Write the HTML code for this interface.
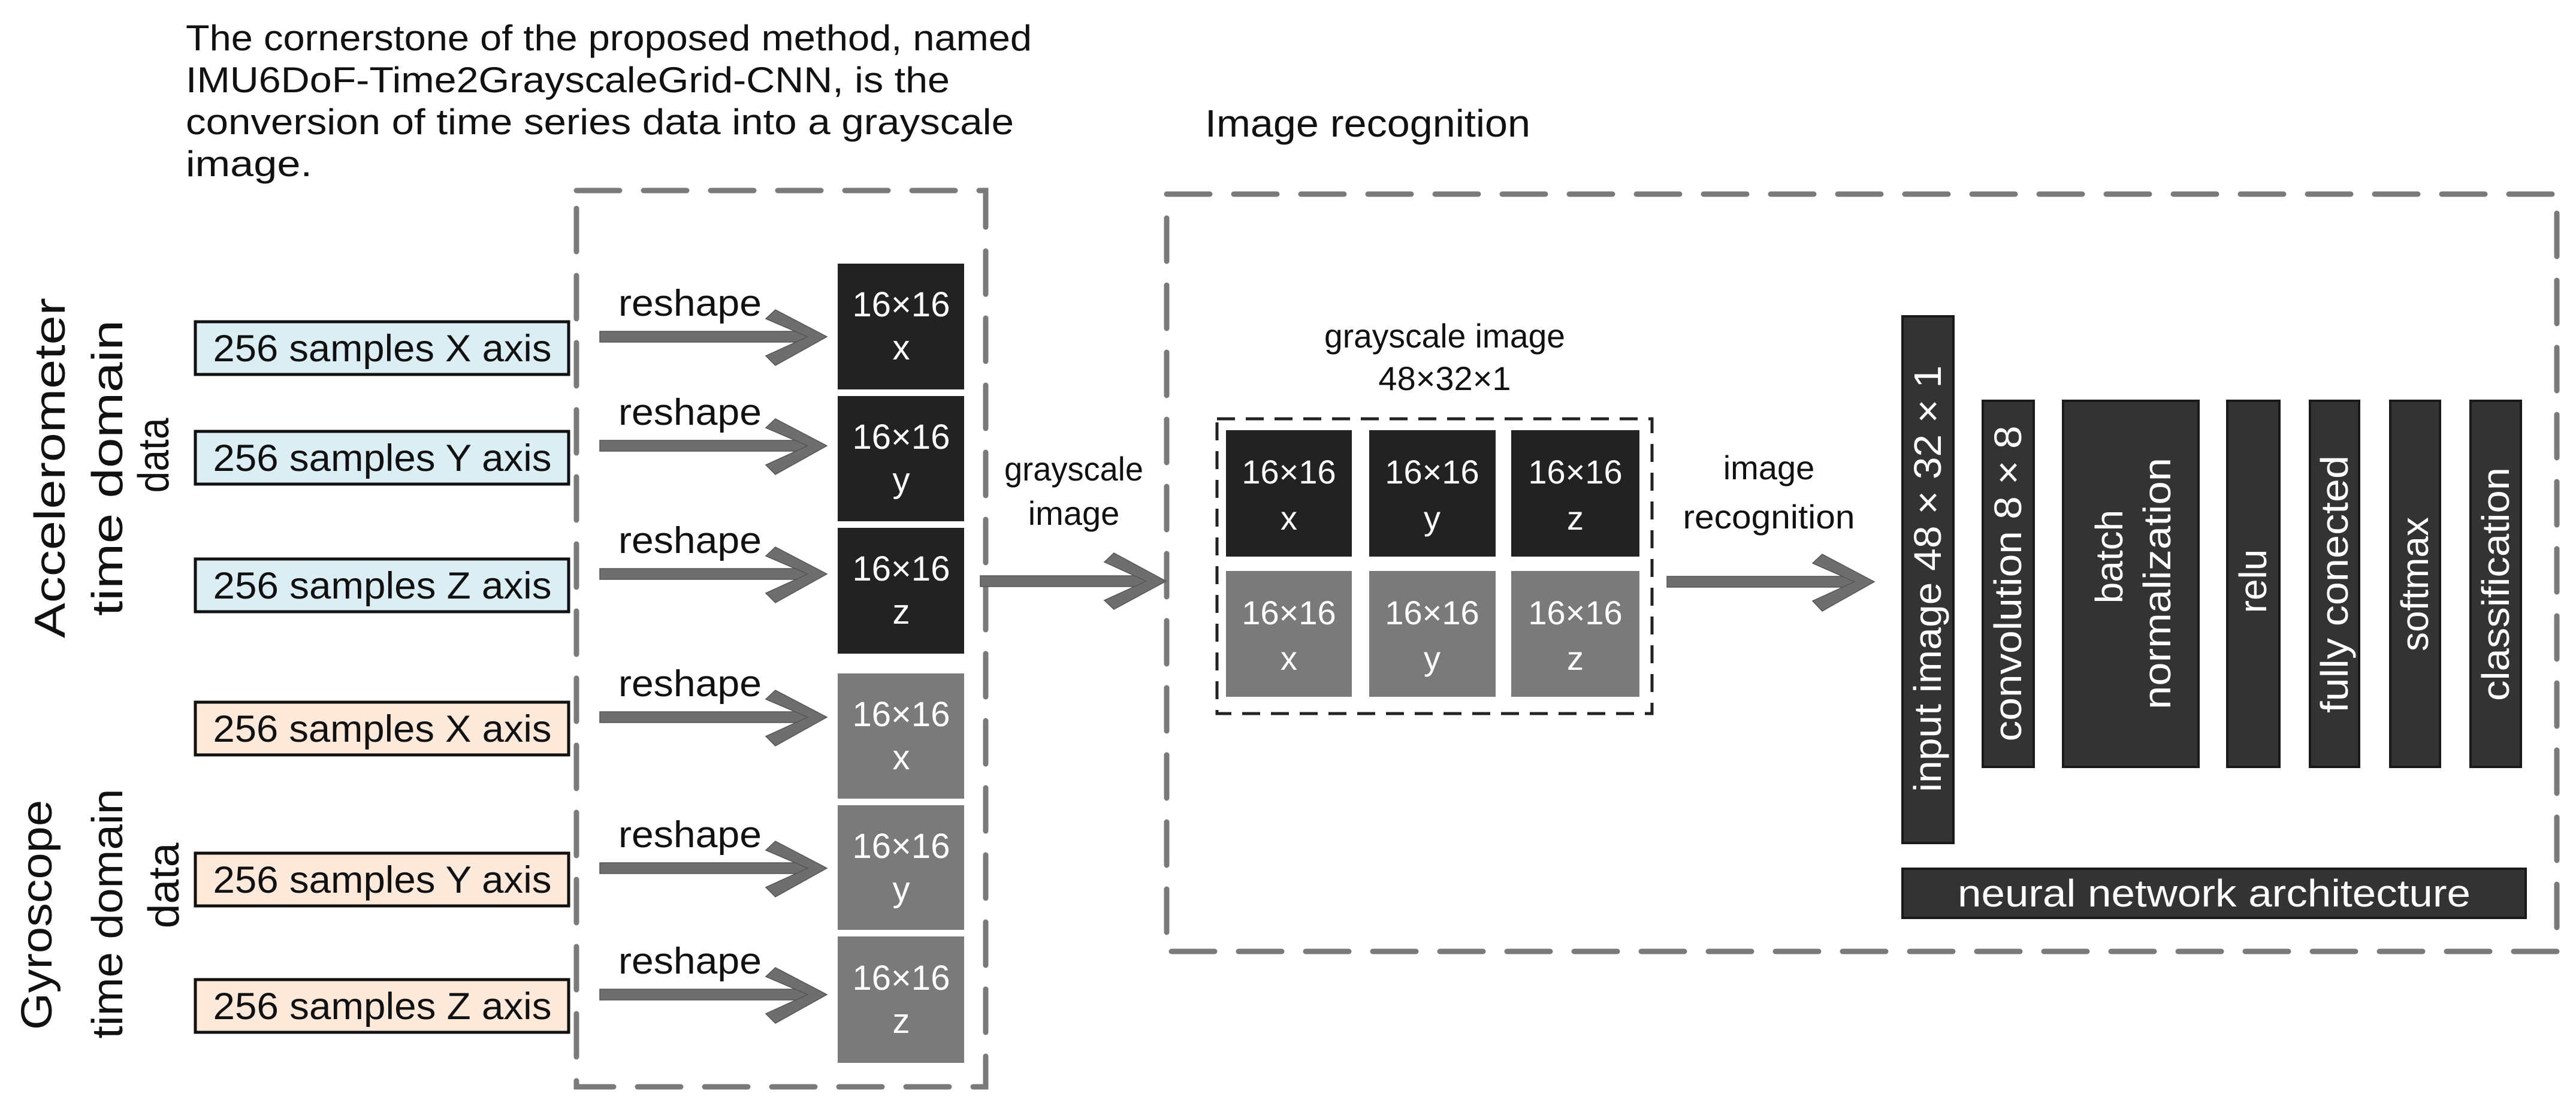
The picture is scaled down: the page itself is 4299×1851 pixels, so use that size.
<!DOCTYPE html>
<html><head><meta charset="utf-8"><style>
html,body{margin:0;padding:0;background:#fff}
svg{display:block}
text{font-family:"Liberation Sans",sans-serif}
</style></head><body>
<svg width="4299" height="1851" viewBox="0 0 4299 1851" xmlns="http://www.w3.org/2000/svg">
<!-- title -->
<g font-size="60" fill="#111">
<text x="310" y="84" textLength="1412" lengthAdjust="spacingAndGlyphs">The cornerstone of the proposed method, named</text>
<text x="310" y="154" textLength="1275" lengthAdjust="spacingAndGlyphs">IMU6DoF-Time2GrayscaleGrid-CNN, is the</text>
<text x="310" y="224" textLength="1382" lengthAdjust="spacingAndGlyphs">conversion of time series data into a grayscale</text>
<text x="310" y="294" textLength="211" lengthAdjust="spacingAndGlyphs">image.</text>
</g>
<text x="2011" y="228" font-size="64" fill="#111" textLength="543" lengthAdjust="spacingAndGlyphs">Image recognition</text>

<!-- side labels -->
<g font-size="72" fill="#111" text-anchor="middle">
<text transform="translate(108,781) rotate(-90)" textLength="568" lengthAdjust="spacingAndGlyphs">Accelerometer</text>
<text transform="translate(204,781) rotate(-90)" textLength="494" lengthAdjust="spacingAndGlyphs">time domain</text>
<text transform="translate(281,760) rotate(-90)" textLength="125" lengthAdjust="spacingAndGlyphs">data</text>
<text transform="translate(86,1527) rotate(-90)" textLength="384" lengthAdjust="spacingAndGlyphs">Gyroscope</text>
<text transform="translate(204,1525) rotate(-90)" textLength="417" lengthAdjust="spacingAndGlyphs">time domain</text>
<text transform="translate(298,1478) rotate(-90)" textLength="143" lengthAdjust="spacingAndGlyphs">data</text>
</g>

<!-- input boxes -->
<g stroke="#111" stroke-width="5">
<rect x="326" y="537" width="623" height="88" fill="#DAEEF3"/>
<rect x="326" y="720" width="623" height="88" fill="#DAEEF3"/>
<rect x="326" y="933" width="623" height="88" fill="#DAEEF3"/>
<rect x="326" y="1172" width="623" height="88" fill="#FDE9D9"/>
<rect x="326" y="1424" width="623" height="88" fill="#FDE9D9"/>
<rect x="326" y="1635" width="623" height="88" fill="#FDE9D9"/>
</g>
<g font-size="63" fill="#111" text-anchor="middle">
<text x="638" y="603" textLength="565" lengthAdjust="spacingAndGlyphs">256 samples X axis</text>
<text x="638" y="786" textLength="565" lengthAdjust="spacingAndGlyphs">256 samples Y axis</text>
<text x="638" y="999" textLength="565" lengthAdjust="spacingAndGlyphs">256 samples Z axis</text>
<text x="638" y="1238" textLength="565" lengthAdjust="spacingAndGlyphs">256 samples X axis</text>
<text x="638" y="1490" textLength="565" lengthAdjust="spacingAndGlyphs">256 samples Y axis</text>
<text x="638" y="1701" textLength="565" lengthAdjust="spacingAndGlyphs">256 samples Z axis</text>
</g>

<!-- dashed boxes -->
<rect x="962" y="318" width="683" height="1496" fill="none" stroke="#7a7a7a" stroke-width="9" stroke-dasharray="72 40" stroke-linecap="round"/>
<rect x="1947" y="324" width="2320" height="1264" fill="none" stroke="#7a7a7a" stroke-width="9" stroke-dasharray="72 40" stroke-linecap="round"/>
<rect x="2031" y="699" width="726" height="492" fill="none" stroke="#222" stroke-width="5" stroke-dasharray="30 18"/>

<!-- arrows -->
<g fill="#6e6e6e" stroke="#555" stroke-width="1.5">
<g id="ra">
<rect x="1001" y="553" width="355" height="18"/>
<polygon points="1278,532 1294,517 1380,562 1294,610 1278,594 1348,562"/>
</g>
<use href="#ra" transform="translate(0,182)"/>
<use href="#ra" transform="translate(0,396)"/>
<use href="#ra" transform="translate(0,635)"/>
<use href="#ra" transform="translate(0,887)"/>
<use href="#ra" transform="translate(0,1098)"/>
<rect x="1636" y="961" width="290" height="18"/>
<polygon points="1843,938 1859,923 1946,970 1859,1017 1843,1002 1913,970"/>
<rect x="2782" y="962" width="326" height="18"/>
<polygon points="3025,940 3041,925 3128,971 3041,1020 3025,1003 3095,971"/>
</g>

<!-- reshape labels -->
<g font-size="62" fill="#111">
<text x="1032" y="527" textLength="239" lengthAdjust="spacingAndGlyphs">reshape</text>
<text x="1032" y="709" textLength="239" lengthAdjust="spacingAndGlyphs">reshape</text>
<text x="1032" y="923" textLength="239" lengthAdjust="spacingAndGlyphs">reshape</text>
<text x="1032" y="1162" textLength="239" lengthAdjust="spacingAndGlyphs">reshape</text>
<text x="1032" y="1414" textLength="239" lengthAdjust="spacingAndGlyphs">reshape</text>
<text x="1032" y="1625" textLength="239" lengthAdjust="spacingAndGlyphs">reshape</text>
</g>

<!-- stacked blocks -->
<g>
<rect x="1398" y="440" width="211" height="210" fill="#222"/>
<rect x="1398" y="661" width="211" height="209" fill="#222"/>
<rect x="1398" y="881" width="211" height="210" fill="#222"/>
<rect x="1398" y="1124" width="211" height="209" fill="#7a7a7a"/>
<rect x="1398" y="1344" width="211" height="208" fill="#7a7a7a"/>
<rect x="1398" y="1563" width="211" height="211" fill="#7a7a7a"/>
</g>
<g font-size="58" fill="#fff" text-anchor="middle">
<text x="1504" y="528">16×16</text><text x="1504" y="600">x</text>
<text x="1504" y="749">16×16</text><text x="1504" y="821">y</text>
<text x="1504" y="969">16×16</text><text x="1504" y="1041">z</text>
<text x="1504" y="1212">16×16</text><text x="1504" y="1284">x</text>
<text x="1504" y="1432">16×16</text><text x="1504" y="1504">y</text>
<text x="1504" y="1652">16×16</text><text x="1504" y="1724">z</text>
</g>

<!-- labels -->
<g font-size="56" fill="#111" text-anchor="middle">
<text x="1792" y="802" textLength="232" lengthAdjust="spacingAndGlyphs">grayscale</text>
<text x="1792" y="876">image</text>
<text x="2411" y="580" textLength="402" lengthAdjust="spacingAndGlyphs">grayscale image</text>
<text x="2411" y="651">48×32×1</text>
<text x="2952" y="800">image</text>
<text x="2952" y="882" textLength="287" lengthAdjust="spacingAndGlyphs">recognition</text>
</g>

<!-- grid cells -->
<g>
<rect x="2046" y="718" width="210" height="211" fill="#222"/>
<rect x="2285" y="718" width="211" height="211" fill="#222"/>
<rect x="2522" y="718" width="214" height="211" fill="#222"/>
<rect x="2046" y="953" width="210" height="210" fill="#7a7a7a"/>
<rect x="2285" y="953" width="211" height="210" fill="#7a7a7a"/>
<rect x="2522" y="953" width="214" height="210" fill="#7a7a7a"/>
</g>
<g font-size="56" fill="#fff" text-anchor="middle">
<text x="2151" y="807">16×16</text><text x="2151" y="884">x</text>
<text x="2390" y="807">16×16</text><text x="2390" y="884">y</text>
<text x="2629" y="807">16×16</text><text x="2629" y="884">z</text>
<text x="2151" y="1042">16×16</text><text x="2151" y="1118">x</text>
<text x="2390" y="1042">16×16</text><text x="2390" y="1118">y</text>
<text x="2629" y="1042">16×16</text><text x="2629" y="1118">z</text>
</g>

<!-- NN bars -->
<g fill="#333" stroke="#1a1a1a" stroke-width="4">
<rect x="3175" y="528" width="85" height="879"/>
<rect x="3309" y="669" width="85" height="611"/>
<rect x="3443" y="669" width="226" height="611"/>
<rect x="3717" y="669" width="87" height="611"/>
<rect x="3855" y="669" width="82" height="611"/>
<rect x="3989" y="669" width="83" height="611"/>
<rect x="4123" y="669" width="84" height="611"/>
<rect x="3175" y="1450" width="1040" height="82"/>
</g>
<g font-size="64" fill="#fff" text-anchor="middle" dominant-baseline="central">
<text transform="translate(3217,966) rotate(-90)" textLength="712" lengthAdjust="spacingAndGlyphs">input image 48 × 32 × 1</text>
<text transform="translate(3351,974) rotate(-90)" textLength="527" lengthAdjust="spacingAndGlyphs">convolution 8 × 8</text>
<text transform="translate(3520,929) rotate(-90)">batch</text>
<text transform="translate(3600,974) rotate(-90)" textLength="420" lengthAdjust="spacingAndGlyphs">normalization</text>
<text transform="translate(3760,970) rotate(-90)">relu</text>
<text transform="translate(3896,975) rotate(-90)" textLength="430" lengthAdjust="spacingAndGlyphs">fully conected</text>
<text transform="translate(4030,975) rotate(-90)">softmax</text>
<text transform="translate(4165,975) rotate(-90)" textLength="390" lengthAdjust="spacingAndGlyphs">classification</text>
<text x="3695" y="1491" textLength="856" lengthAdjust="spacingAndGlyphs">neural network architecture</text>
</g>
</svg>
</body></html>
